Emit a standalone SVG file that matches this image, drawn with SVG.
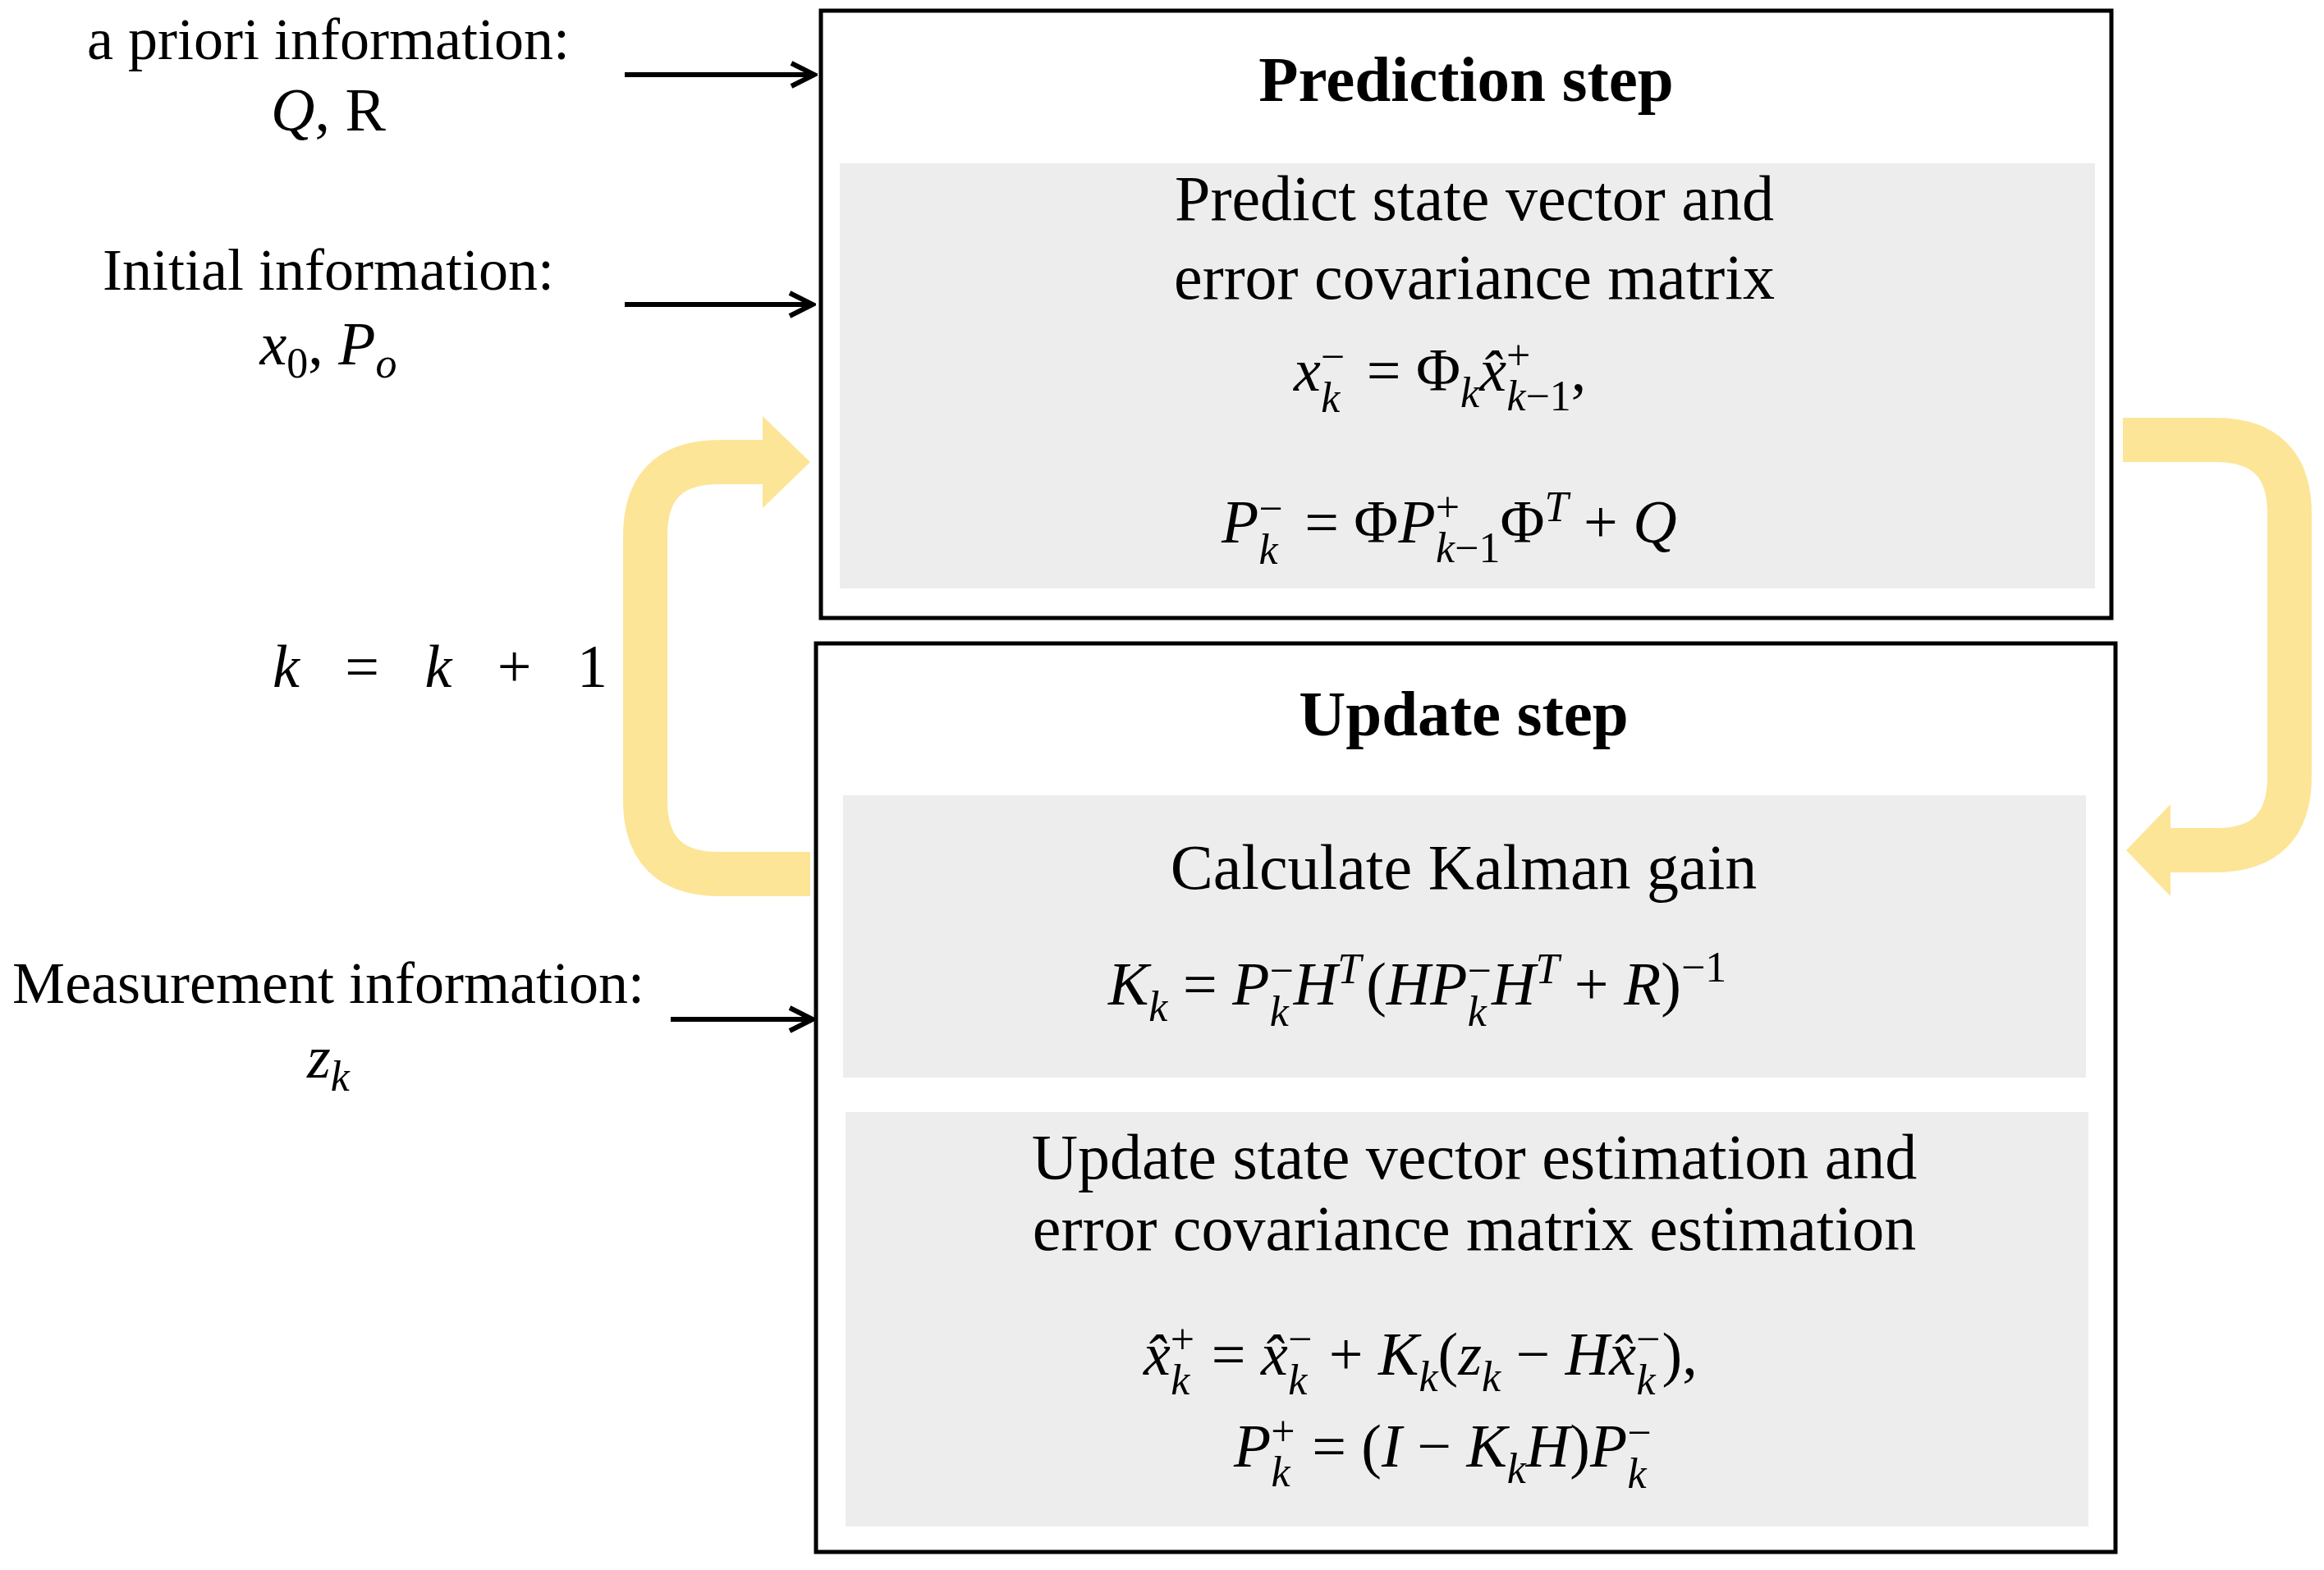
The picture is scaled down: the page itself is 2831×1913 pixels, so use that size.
<svg xmlns="http://www.w3.org/2000/svg" width="2831" height="1913" viewBox="0 0 2831 1913">
<style>
.box{fill:#fff;stroke:#000;stroke-width:5}
.gray{fill:#ededed}
.t{font-family:"Liberation Serif",serif;font-size:78px;fill:#000}
.l{font-size:72px}
.b{font-weight:bold;font-size:79px}
.m{font-family:"Liberation Serif",serif;font-size:74px;fill:#000}
.i{font-style:italic}
.s{font-size:52px}
.arr{stroke:#000;stroke-width:6;fill:none}
.loop{stroke:#fde597;stroke-width:54;fill:none}
</style>
<defs>
<marker id="ah2" markerWidth="36" markerHeight="36" refX="32" refY="18" orient="auto" markerUnits="userSpaceOnUse"><path d="M4 4 L32 18 L4 32" fill="none" stroke="#000" stroke-width="6"/></marker>
</defs>
<rect width="2831" height="1913" fill="#fff"/>
<g id="prediction">
<rect class="box" x="1000" y="13" width="1572" height="740"/>
<rect class="gray" x="1023" y="199" width="1529" height="518"/>
<text class="t b" x="1786" y="123" text-anchor="middle">Prediction step</text>
<text class="t" x="1796" y="268" text-anchor="middle">Predict state vector and</text>
<text class="t" x="1796" y="364" text-anchor="middle">error covariance matrix</text>
<text class="m" x="1576" y="476"><tspan class="i">x</tspan><tspan class="s" dy="-24">−</tspan><tspan class="s i" dx="-29" dy="50">k</tspan><tspan dy="-26" dx="14"> =  Φ</tspan><tspan class="s i" dy="20">k</tspan><tspan class="i" dy="-20">x̂</tspan><tspan class="s" dy="-26">+</tspan><tspan class="s i" dx="-29" dy="50">k</tspan><tspan class="s">−1</tspan><tspan dy="-24">,</tspan></text>
<text class="m" x="1488" y="661"><tspan class="i">P</tspan><tspan class="s" dy="-24">−</tspan><tspan class="s i" dx="-29" dy="50">k</tspan><tspan dy="-26" dx="14"> =  Φ</tspan><tspan class="i">P</tspan><tspan class="s" dy="-26">+</tspan><tspan class="s i" dx="-29" dy="50">k</tspan><tspan class="s">−1</tspan><tspan dy="-24">Φ</tspan><tspan class="s i" dy="-26">T</tspan><tspan dy="26">  +  </tspan><tspan class="i">Q</tspan></text>
</g>
<g id="update">
<rect class="box" x="994" y="784" width="1583" height="1107"/>
<rect class="gray" x="1027" y="969" width="1514" height="344"/>
<rect class="gray" x="1030" y="1355" width="1514" height="505"/>
<text class="t b" x="1783" y="896" text-anchor="middle">Update step</text>
<text class="t" x="1783" y="1083" text-anchor="middle">Calculate Kalman gain</text>
<text class="m" x="1350" y="1224"><tspan class="i">K</tspan><tspan class="s i" dy="20">k</tspan><tspan dy="-20">  =  </tspan><tspan class="i">P</tspan><tspan class="s" dy="-24">−</tspan><tspan class="s i" dx="-29" dy="50">k</tspan><tspan class="i" dy="-26" dx="6">H</tspan><tspan class="s i" dy="-26">T</tspan><tspan dy="26" dx="6">(</tspan><tspan class="i">HP</tspan><tspan class="s" dy="-24">−</tspan><tspan class="s i" dx="-29" dy="50">k</tspan><tspan class="i" dy="-26" dx="6">H</tspan><tspan class="s i" dy="-26">T</tspan><tspan dy="26">  +  </tspan><tspan class="i">R</tspan><tspan>)</tspan><tspan class="s" dy="-28">−1</tspan></text>
<text class="t" x="1796" y="1436" text-anchor="middle">Update state vector estimation and</text>
<text class="t" x="1796" y="1523" text-anchor="middle">error covariance matrix estimation</text>
<text class="m" x="1393" y="1675"><tspan class="i">x̂</tspan><tspan class="s" dy="-26">+</tspan><tspan class="s i" dx="-29" dy="50">k</tspan><tspan dy="-24" dx="8">  =  </tspan><tspan class="i">x̂</tspan><tspan class="s" dy="-26">−</tspan><tspan class="s i" dx="-29" dy="50">k</tspan><tspan dy="-24" dx="8">  +  </tspan><tspan class="i">K</tspan><tspan class="s i" dy="20">k</tspan><tspan dy="-20">(</tspan><tspan class="i">z</tspan><tspan class="s i" dy="20">k</tspan><tspan dy="-20">  −  </tspan><tspan class="i">Hx̂</tspan><tspan class="s" dy="-26">−</tspan><tspan class="s i" dx="-29" dy="50">k</tspan><tspan dy="-24" dx="8">),</tspan></text>
<text class="m" x="1503" y="1787"><tspan class="i">P</tspan><tspan class="s" dy="-26">+</tspan><tspan class="s i" dx="-29" dy="50">k</tspan><tspan dy="-24" dx="8">  =  (</tspan><tspan class="i">I</tspan><tspan>  −  </tspan><tspan class="i">K</tspan><tspan class="s i" dy="20">k</tspan><tspan class="i" dy="-20">H</tspan><tspan>)</tspan><tspan class="i">P</tspan><tspan class="s" dy="-24">−</tspan><tspan class="s i" dx="-29" dy="50">k</tspan></text>
</g>
<g id="inputs">
<text class="t l" x="400" y="72" text-anchor="middle">a priori information:</text>
<text class="m" x="400" y="159" text-anchor="middle"><tspan class="i">Q</tspan>, R</text>
<text class="t l" x="400" y="353" text-anchor="middle">Initial information:</text>
<text class="m" x="400" y="444" text-anchor="middle"><tspan class="i">x</tspan><tspan class="s" dy="16">0</tspan><tspan dy="-16">, </tspan><tspan class="i">P</tspan><tspan class="s i" dy="16">o</tspan></text>
<text class="m" x="536" y="837" text-anchor="middle" xml:space="preserve"><tspan class="i">k</tspan>   =   <tspan class="i">k</tspan>   +   1</text>
<text class="t l" x="400" y="1222" text-anchor="middle">Measurement information:</text>
<text class="m" x="400" y="1313" text-anchor="middle"><tspan class="i">z</tspan><tspan class="s i" dy="16">k</tspan></text>
</g>
<g id="connectors">
<line class="arr" x1="761" y1="91" x2="992" y2="91" marker-end="url(#ah2)"/>
<line class="arr" x1="761" y1="371" x2="990" y2="371" marker-end="url(#ah2)"/>
<line class="arr" x1="817" y1="1242" x2="990" y2="1242" marker-end="url(#ah2)"/>
<path class="loop" d="M987 1065 H876 Q786 1065 786 975 V653 Q786 563 876 563 H930"/>
<polygon fill="#fde597" points="929,507 987,563 929,619"/>
<path class="loop" d="M2586 536 H2699 Q2789 536 2789 626 V946 Q2789 1036 2699 1036 H2644"/>
<polygon fill="#fde597" points="2644,980 2590,1036 2644,1092"/>
</g>
</svg>
